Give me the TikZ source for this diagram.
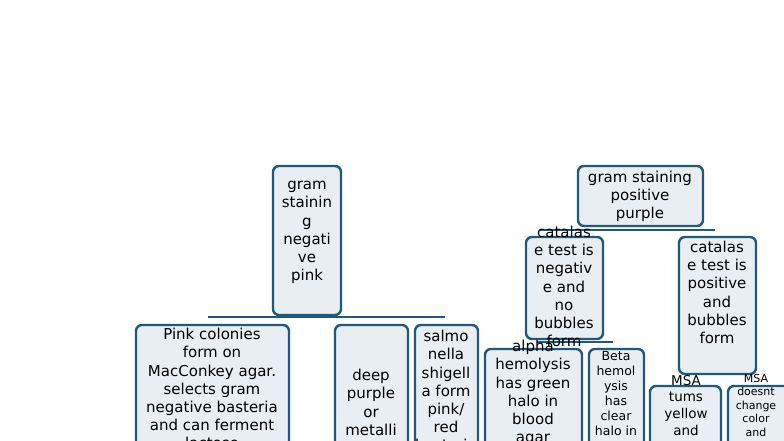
\documentclass[tikz,border=0pt]{standalone}
\usepackage{fontspec}
\setmainfont{DejaVu Sans}
\begin{document}
\begin{tikzpicture}[x=1pt,y=-1pt,
  box/.style={draw=boxline,fill=boxfill,line width=2.4pt,rounded corners=6pt},
  txt/.style={anchor=north,align=center,inner sep=0pt,font=\fontsize{15}{18.2}\selectfont},
  conn/.style={draw=boxline,line width=2pt}]
\definecolor{boxline}{HTML}{1F5A7A}
\definecolor{boxfill}{HTML}{E8EEF2}
\useasboundingbox (0,0) rectangle (784,441);
\clip (0,0) rectangle (784,441);
% connectors
\draw[conn] (208,317) -- (445,317);
\draw[conn] (540,230) -- (715,230);
\draw[conn] (537,342) -- (613,342);
% boxes
\draw[box] (273,166) rectangle (341,315);
\draw[box] (136,325) rectangle (289,460);
\draw[box] (335,325) rectangle (408,460);
\draw[box] (415,325) rectangle (478,460);
\draw[box] (578,166) rectangle (703,226);
\draw[box] (526,237) rectangle (603,339);
\draw[box] (679,237) rectangle (756,374);
\draw[box] (485,349) rectangle (582,460);
\draw[box] (589,349) rectangle (644,460);
\draw[box] (650,386) rectangle (721,460);
\draw[box] (728,386) rectangle (800,460);
% texts
\node[txt] (n1) at (307,181) {gram\\stainin\\g\\negati\\ve\\pink};
\node[txt] (n2) at (212,328) {Pink colonies\\form on\\MacConkey agar.\\selects gram\\negative basteria\\and can ferment\\lactose};
\node[txt] (n3) at (371,369) {deep\\purple\\or\\metalli\\c};
\node[txt] (n4) at (446,330) {salmo\\nella\\shigell\\a form\\pink/\\red\\bacteria};
\node[txt] (p1) at (640,171) {gram staining\\positive\\purple};
\node[txt] (p2) at (564,226) {catalas\\e test is\\negativ\\e and\\no\\bubbles\\form};
\node[txt] (p3) at (717,241) {catalas\\e test is\\positive\\and\\bubbles\\form};
\node[txt] (a1) at (533,340) {alpha\\hemolysis\\has green\\halo in\\blood\\agar};
\node[txt,font=\fontsize{12.5}{15}\selectfont] (b1) at (616,351) {Beta\\hemol\\ysis\\has\\clear\\halo in};
\node[txt,font=\fontsize{13.5}{16.7}\selectfont] (m1) at (686,375) {MSA\\tums\\yellow\\and\\ferments};
\node[txt,font=\fontsize{11}{13.5}\selectfont] (m2) at (756,374) {MSA\\doesnt\\change\\color\\and};
\end{tikzpicture}
\end{document}
